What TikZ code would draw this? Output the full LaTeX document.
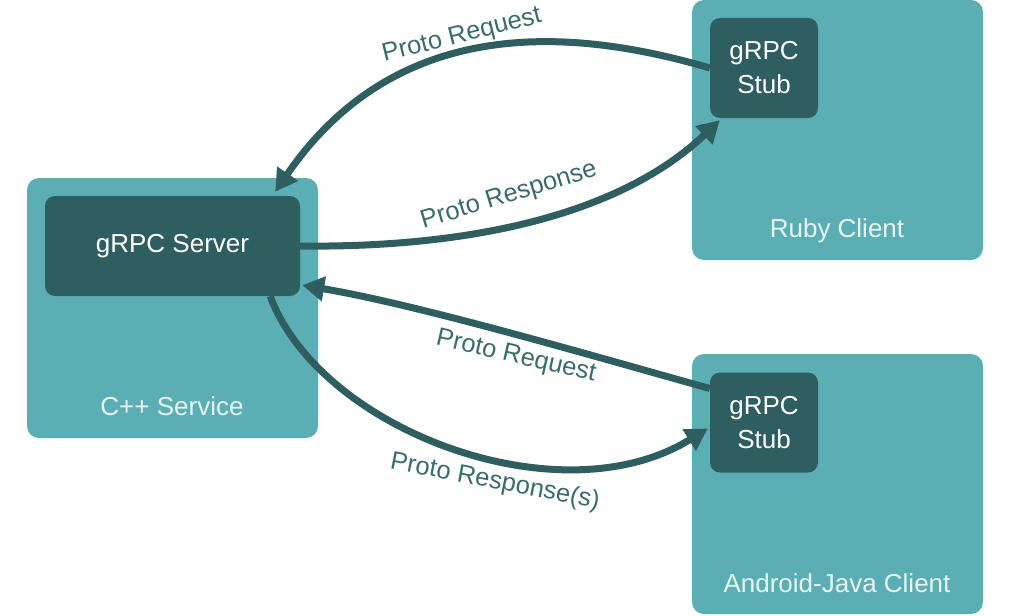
\documentclass[tikz,border=0pt]{standalone}
\usepackage{fontspec}
\setmainfont{Liberation Sans}
\usetikzlibrary{calc, arrows.meta}
\definecolor{boxteal}{HTML}{5BAEB4}
\definecolor{stubdark}{HTML}{2F5E60}
\definecolor{msgcolor}{HTML}{3A6B6D}
\definecolor{softwhite}{HTML}{E8F5F5}

\begin{document}
\begin{tikzpicture}[x=1pt, y=-1pt,
	service/.style={fill=boxteal, rounded corners=12pt, minimum width=291pt, minimum height=260pt},
	stub/.style={fill=stubdark, rounded corners=10pt, text=white, align=center, font=\fontsize{26}{34}\selectfont},
	title/.style={text=softwhite, font=\fontsize{26}{30}\selectfont},
	call/.style={line width=7pt, draw=stubdark, -{Triangle[length=22pt, width=24pt]}},
	msg/.style={text=msgcolor, font=\fontsize{25.5}{30}\selectfont}]

		\useasboundingbox (0,0) rectangle (1024,615);

		% C++ side
		\node[service] (cpp) at (172.5,308) {};
		\node[title] (cpplabel) at (172,406) {C++ Service};
		\node[stub, minimum width=255pt, minimum height=100pt] (server) at (172.5,246) {gRPC Server};

		% Ruby client
		\node[service] (ruby) at (837.5,130) {};
		\node[title] (rubylabel) at (837,231) {Ruby Client};
		\node[stub, minimum width=108pt, minimum height=100pt] (rstub) at (764,68) {gRPC\\Stub};

		% Android client
		\node[service] (android) at (837.5,484) {};
		\node[title] (androidlabel) at (837,583) {Android-Java Client};
		\node[stub, minimum width=108pt, minimum height=100pt] (astub) at (764,422.5) {gRPC\\Stub};

		\draw[call] (rstub.west) .. controls (580,30) and (400,10) .. ($(server.north east)+(-25,-4)$);
		\draw[call] (server.east) .. controls (470,248) and (620,215) .. ($(rstub.south west)+(10,2)$);
		\draw[call] ($(astub.west)+(0,-34)$) .. controls (600,358) and (420,305) .. ($(server.south east)+(2,-11)$);
		\draw[call] ($(server.south east)+(-30,0)$) .. controls (320,430) and (560,520) .. ($(astub.west)+(-2,6)$);

		\node[msg, rotate=14] (req1) at (462,36) {Proto Request};
		\node[msg, rotate=17] (resp1) at (509,196) {Proto Response};
		\node[msg, rotate=-13] (req2) at (516,357) {Proto Request};
		\node[msg, rotate=-11] (resp2) at (495,482) {Proto Response(s)};

\end{tikzpicture}
\end{document}
